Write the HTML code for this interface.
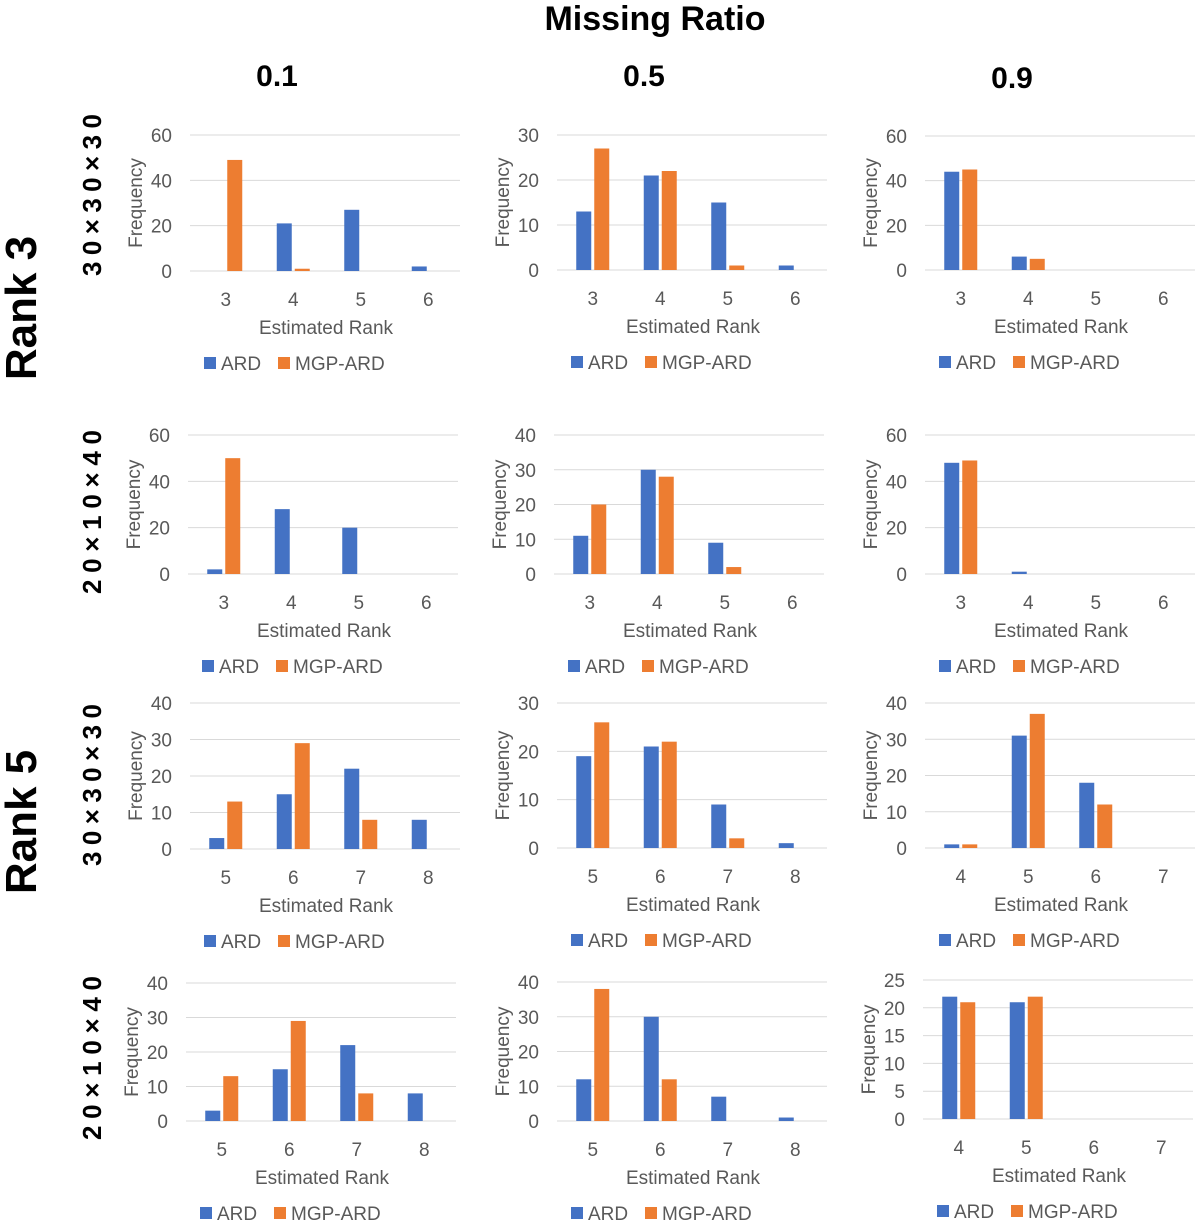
<!DOCTYPE html>
<html><head><meta charset="utf-8"><style>
body{margin:0;background:#fff;}
svg{display:block;font-family:"Liberation Sans","DejaVu Sans",sans-serif;}
</style></head><body>
<svg id="fig" width="1200" height="1220" viewBox="0 0 1200 1220">
<text x="655" y="30" font-size="34" font-weight="bold" text-anchor="middle">Missing Ratio</text>
<text x="277" y="86" font-size="30" font-weight="bold" text-anchor="middle">0.1</text>
<text x="644" y="86" font-size="30" font-weight="bold" text-anchor="middle">0.5</text>
<text x="1012" y="88" font-size="30" font-weight="bold" text-anchor="middle">0.9</text>
<text transform="translate(36,308) rotate(-90)" font-size="44" font-weight="bold" text-anchor="middle">Rank 3</text>
<text transform="translate(36,822) rotate(-90)" font-size="44" font-weight="bold" text-anchor="middle">Rank 5</text>
<text transform="translate(101,195) rotate(-90)" font-size="26" font-weight="bold" text-anchor="middle" textLength="162" lengthAdjust="spacing">30×30×30</text>
<text transform="translate(101,512) rotate(-90)" font-size="26" font-weight="bold" text-anchor="middle" textLength="164" lengthAdjust="spacing">20×10×40</text>
<text transform="translate(101,785) rotate(-90)" font-size="26" font-weight="bold" text-anchor="middle" textLength="162" lengthAdjust="spacing">30×30×30</text>
<text transform="translate(101,1058) rotate(-90)" font-size="26" font-weight="bold" text-anchor="middle" textLength="164" lengthAdjust="spacing">20×10×40</text>
</svg>
<script>
// data
const categories = [
 [3,4,5,6],[3,4,5,6],[3,4,5,6],
 [3,4,5,6],[3,4,5,6],[3,4,5,6],
 [5,6,7,8],[5,6,7,8],[4,5,6,7],
 [5,6,7,8],[5,6,7,8],[4,5,6,7]
];
const ardValues = [
 [0,21,27,2],[13,21,15,1],[44,6,0,0],
 [2,28,20,0],[11,30,9,0],[48,1,0,0],
 [3,15,22,8],[19,21,9,1],[1,31,18,0],
 [3,15,22,8],[12,30,7,1],[22,21,0,0]
];
const mgpValues = [
 [49,1,0,0],[27,22,1,0],[45,5,0,0],
 [50,0,0,0],[20,28,2,0],[49,0,0,0],
 [13,29,8,0],[26,22,2,0],[1,37,12,0],
 [13,29,8,0],[38,12,0,0],[21,22,0,0]
];
const yMaxes = [60,30,60, 60,40,60, 40,30,40, 40,40,25];
const ySteps = [20,10,20, 20,10,20, 10,10,10, 10,10,5];

// layout
const colX = [[190,460],[557,827],[925,1195]];
const rowY = [
 [[135,271],[135,270],[136,270]],
 [[435,574],[435,574],[435,574]],
 [[703,849],[703,848],[703,848]],
 [[983,1121],[982,1121],[980,1119]]
];
const colShift=[[0,0,0],[-2,-3,0],[0,0,0],[-4,0,-2]];
const NS="http://www.w3.org/2000/svg";
const svg=document.getElementById('fig');
function mk(tag,attrs,parent){const e=document.createElementNS(NS,tag);for(const k in attrs)e.setAttribute(k,attrs[k]);(parent||svg).appendChild(e);return e;}
for(let i=0;i<12;i++){
 const r=Math.floor(i/3),c=i%3;
 const sh=colShift[r][c];
 const L=colX[c][0]+sh,R=colX[c][1]+sh,T=rowY[r][c][0],B=rowY[r][c][1];
 const g=mk('g',{});
 
 
 const y=v=>B-(v/yMaxes[i])*(B-T);
 const sp=(R-L)/categories[i].length;
 const x=k=>L+sp/2+k*sp+2;
 for(let v=0;v<=yMaxes[i];v+=ySteps[i]){
  const ln=mk('line',{x1:L,x2:R,y1:y(v),y2:y(v),stroke:'#d9d9d9','stroke-width':1},g);
  
  
  const t=mk('text',{x:L-18,y:y(v)+7,'font-size':19,fill:'#595959','text-anchor':'end'},g);
  t.textContent=v;
  
  
 }
 categories[i].forEach((cat,k)=>{
  const a=mk('rect',{x:x(k)-16.5,y:y(ardValues[i][k]),width:15,height:B-y(ardValues[i][k]),fill:'#4472C4'},g);
  
  
  const m=mk('rect',{x:x(k)+1.5,y:y(mgpValues[i][k]),width:15,height:B-y(mgpValues[i][k]),fill:'#ED7D31'},g);
  
  
  const t=mk('text',{x:x(k),y:B+35,'font-size':19,fill:'#595959','text-anchor':'middle'},g);
  t.textContent=cat;
  
  
 });
 const cx=(L+R)/2;
 const xt=mk('text',{x:cx+1,y:B+63,'font-size':19,fill:'#595959','text-anchor':'middle'},g);
 xt.textContent='Estimated Rank';
 
 
 const yt=mk('text',{transform:'translate('+(L-48)+','+((T+B)/2)+') rotate(-90)','font-size':19,fill:'#595959','text-anchor':'middle'},g);
 yt.textContent='Frequency';
 
 
 const ly=B+92;
 const s1=mk('rect',{x:cx-121,y:ly-6,width:12,height:12,fill:'#4472C4'},g);
 
 
 const t1=mk('text',{x:cx-104,y:ly+7,'font-size':19,fill:'#595959'},g);
 t1.textContent='ARD';
 
 
 const s2=mk('rect',{x:cx-47,y:ly-6,width:12,height:12,fill:'#ED7D31'},g);
 
 
 const t2=mk('text',{x:cx-30,y:ly+7,'font-size':19,fill:'#595959'},g);
 t2.textContent='MGP-ARD';
 
 
}
</script>
</body></html>
